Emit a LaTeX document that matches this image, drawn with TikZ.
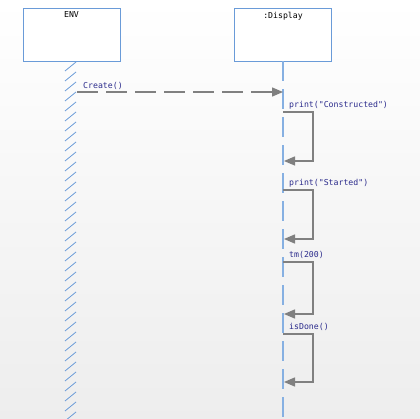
\documentclass[tikz,border=0pt]{standalone}
\usepackage{fontspec}
\setmonofont{DejaVu Sans Mono}
\usetikzlibrary{arrows.meta,positioning}
\definecolor{lifeblue}{HTML}{6A9BD8}
\definecolor{dashblue}{HTML}{86B0E2}
\definecolor{msggray}{HTML}{808080}
\definecolor{labelblue}{HTML}{2B2B8C}
\begin{document}
\begin{tikzpicture}[
  x=1pt, y=-1pt,
  object/.style={
    draw=lifeblue,
    fill=white,
    line width=0.9pt,
    minimum width=97pt,
    minimum height=53pt,
    inner sep=0pt
  },
  title/.style={font=\ttfamily\fontsize{8.2}{9}\selectfont, text=black, inner sep=0pt},
  msglabel/.style={font=\ttfamily\fontsize{8.2}{9}\selectfont, text=labelblue, inner sep=0pt, anchor=west},
  msg/.style={draw=msggray, line width=1.3pt, -{Triangle[length=11pt,width=9pt]}}
]
\useasboundingbox[top color=white, bottom color=black!7] (0,0) rectangle (420,419);

% objects
\node[object] (env) at (71.5,34.5) {};
\node[object] (display) at (283,34.5) {};
\node[title, below=4pt of env.north] (envtitle) {ENV};
\node[title, below=4pt of display.north] (displaytitle) {:Display};

% lifelines
\coordinate (displayend) at (283,419);
\foreach \y in {62,72,...,412}
  \draw[lifeblue, line width=0.8pt] (65,\y+9) -- (76,\y);
\draw[dashblue, line width=1.1pt, dash pattern=on 20pt off 8pt] (display.south) -- (displayend);

% create message
\coordinate (createstart) at (77,92);
\coordinate (createend) at (283,92);
\draw[msg, dash pattern=on 21pt off 8pt] (createstart) -- (createend);
\node[msglabel] (createlabel) at (83,86) {Create()};

% self messages
\foreach \t/\b/\txt [count=\i] in {112/161/print("Constructed"), 190/239/print("Started"), 262/314/tm(200), 334/382/isDone()} {
  \coordinate (self\i top) at (283,\t);
  \coordinate (self\i bot) at (284,\b);
  \draw[msg] (self\i top) -- ++(30,0) |- (self\i bot);
  \node[msglabel] (self\i label) at (289,\t-7) {\txt};
}
\end{tikzpicture}
\end{document}
